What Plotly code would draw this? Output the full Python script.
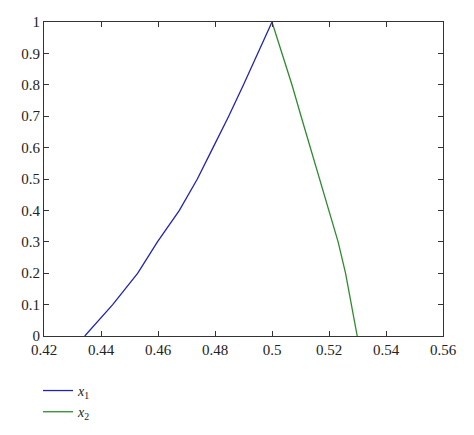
import plotly.graph_objects as go

# Series x1 (rising branch) and x2 (falling branch)
x1_x = [0.4343, 0.4441, 0.4529, 0.4598, 0.4675, 0.4738, 0.4793, 0.4848, 0.4900, 0.4951, 0.5000]
x1_y = [0.0, 0.1, 0.2, 0.3, 0.4, 0.5, 0.6, 0.7, 0.8, 0.9, 1.0]
x2_x = [0.5000, 0.5036, 0.5070, 0.5102, 0.5135, 0.5168, 0.5201, 0.5232, 0.5258, 0.5279, 0.5299]
x2_y = [1.0, 0.9, 0.8, 0.7, 0.6, 0.5, 0.4, 0.3, 0.2, 0.1, 0.0]

xtick_vals = [0.42, 0.44, 0.46, 0.48, 0.50, 0.52, 0.54, 0.56]
xtick_text = ["0.42", "0.44", "0.46", "0.48", "0.5", "0.52", "0.54", "0.56"]
ytick_vals = [0, 0.1, 0.2, 0.3, 0.4, 0.5, 0.6, 0.7, 0.8, 0.9, 1]
ytick_text = ["0", "0.1", "0.2", "0.3", "0.4", "0.5", "0.6", "0.7", "0.8", "0.9", "1"]

font_family = "Liberation Serif"

fig = go.Figure()
fig.add_trace(go.Scatter(x=x1_x, y=x1_y, mode="lines", name="<i>x</i><sub>1</sub>",
                         line=dict(color="#2323b0", width=1.3)))
fig.add_trace(go.Scatter(x=x2_x, y=x2_y, mode="lines", name="<i>x</i><sub>2</sub>",
                         line=dict(color="#2e8b2e", width=1.3)))

axis_common = dict(showgrid=False, zeroline=False, showline=True, linecolor="#333333",
                   linewidth=1.2, mirror="ticks", ticks="inside", ticklen=5,
                   tickcolor="#333333", tickwidth=1.2, automargin=False,
                   tickfont=dict(family=font_family, size=15, color="#222222"))

fig.update_xaxes(range=[0.42, 0.56], tickvals=xtick_vals, ticktext=xtick_text, **axis_common)
fig.update_yaxes(range=[0, 1], tickvals=ytick_vals, ticktext=ytick_text, **axis_common)

# The page body adds an 8px offset, so the figure is sized to fit the window
fig.update_layout(
    width=466, height=427,
    margin=dict(l=36, r=31, t=14, b=99, autoexpand=False),
    plot_bgcolor="white", paper_bgcolor="white",
    showlegend=True,
    font=dict(family=font_family),
    legend=dict(x=-0.015, y=-0.124, xanchor="left", yanchor="top",
                font=dict(family=font_family, size=14, color="#222222"),
                bgcolor="rgba(0,0,0,0)", tracegroupgap=0, itemwidth=30),
)

fig.write_html("out.html")
